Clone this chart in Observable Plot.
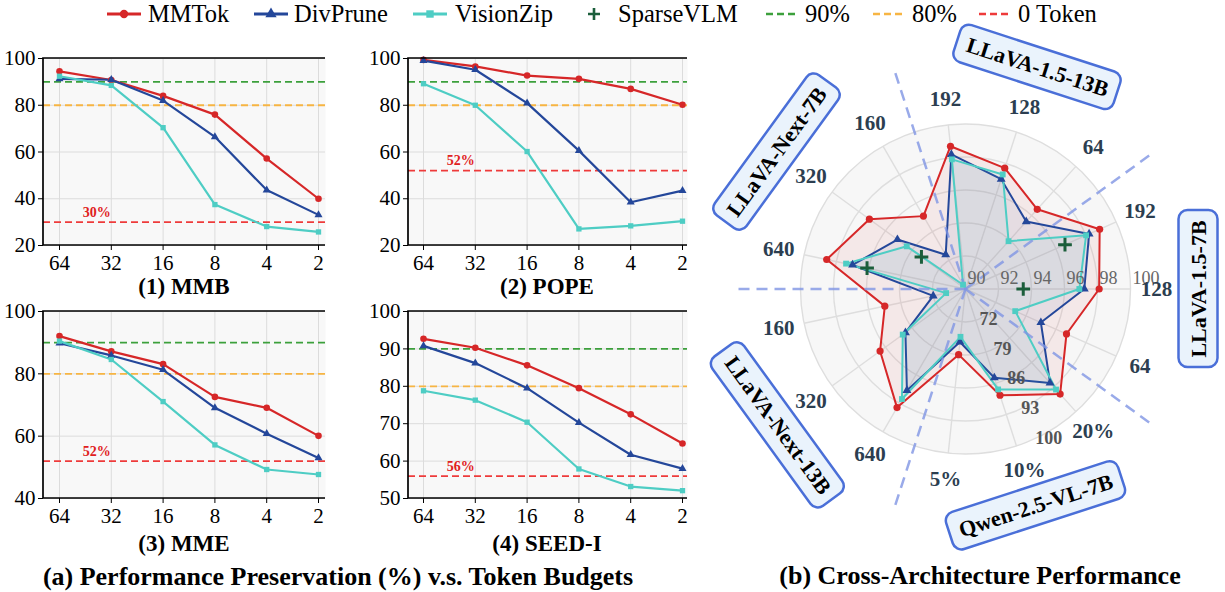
<!DOCTYPE html>
<html><head><meta charset="utf-8">
<script src="https://cdn.jsdelivr.net/npm/d3@7"></script>
<script src="https://cdn.jsdelivr.net/npm/@observablehq/plot@0.6"></script>
<style>
body{margin:0;background:#fff;font-family:"Liberation Serif","Times New Roman",serif;}
#root{position:relative;width:1225px;height:592px;overflow:hidden;background:#fff;}
#root svg{position:absolute;overflow:visible;}
.t{position:absolute;white-space:nowrap;line-height:1;color:#000;}
.c{transform:translate(-50%,-50%);font-weight:bold;font-size:23px;}
.cap{font-size:26px;}
.l{transform:translate(0,-50%);font-size:24.5px;line-height:1.2;}
</style></head><body><div id="root"></div>
<script>
// ---------------- data ----------------
const budgets = ["64","32","16","8","4","2"];
const methods = ["MMTok","DivPrune","VisionZip"];
const mmbMMTok      = [94.5, 90.8, 84.0, 76.0, 57.2, 40.0];
const mmbDivPrune   = [91.3, 90.9, 82.0, 66.5, 43.7, 33.1];
const mmbVisionZip  = [92.4, 88.5, 70.4, 37.5, 28.1, 25.8];
const popeMMTok     = [99.4, 96.6, 92.7, 91.3, 87.0, 80.2];
const popeDivPrune  = [99.1, 95.2, 80.9, 60.6, 38.5, 43.5];
const popeVisionZip = [89.2, 80.0, 60.2, 27.1, 28.4, 30.4];
const mmeMMTok      = [92.1, 87.2, 83.1, 72.6, 69.1, 60.1];
const mmeDivPrune   = [89.8, 85.9, 81.3, 69.1, 60.8, 53.0];
const mmeVisionZip  = [90.5, 84.6, 71.1, 57.2, 49.3, 47.7];
const seedMMTok     = [92.7, 90.3, 85.6, 79.5, 72.5, 64.7];
const seedDivPrune  = [90.8, 86.2, 79.5, 70.3, 61.7, 58.0];
const seedVisionZip = [78.8, 76.3, 70.4, 57.9, 53.2, 52.1];
const refLevels = [90, 80];
const zeroToken = [30, 52, 52, 56];
const panelTitles = ["(1) MMB", "(2) POPE", "(3) MME", "(4) SEED-I"];
const yTicksMMB  = [20, 40, 60, 80, 100];
const yTicksPOPE = [20, 40, 60, 80, 100];
const yTicksMME  = [40, 60, 80, 100];
const yTicksSEED = [50, 60, 70, 80, 90, 100];

const models = ["LLaVA-1.5-7B", "LLaVA-1.5-13B", "LLaVA-Next-7B", "LLaVA-Next-13B", "Qwen-2.5-VL-7B"];
const modelBudgets = [["64","128","192"], ["64","128","192"], ["160","320","640"], ["160","320","640"], ["5%","10%","20%"]];
const modelRanges = [[90,100], [90,100], [90,100], [90,100], [65,100]];
const radarMMTok     = [96.7, 98.1, 98.9,  96.5, 97.7, 98.7,  95.1, 97.2, 98.6,  95.0, 96.4, 98.3,  79.0, 88.7, 95.0];
const radarDivPrune  = [95.0, 97.2, 98.2,  95.5, 97.0, 98.2,  92.4, 95.1, 97.0,  92.0, 94.5, 97.1,  76.3, 84.8, 91.8];
const radarVisionZip = [93.3, 96.9, 98.0,  93.9, 97.3, 97.9,  90.3, 94.4, 97.4,  91.2, 94.7, 97.7,  75.2, 87.4, 93.7];
const radarSparseVLM = [null, 93.5, 96.6,  null, null, null,  null, 93.3, 96.1,  null, null, null,  null, null, null];
const rTicksLLaVA = [90, 92, 94, 96, 98, 100];
const rTicksQwen  = [72, 79, 86, 93, 100];

// ---------------- styles ----------------
const colors = {MMTok: "#d62728", DivPrune: "#24479a", VisionZip: "#4ecdc4", SparseVLM: "#1b5e3b"};
const symbols = {MMTok: "circle", DivPrune: "triangle", VisionZip: "square"};
const symR = {MMTok: 3.3, DivPrune: 3.0, VisionZip: 3.0};
const refColors = ["#3ca03c", "#f7b543"];
const zeroColor = "#ee3b3b";
const FONT = "Liberation Serif, Times New Roman, serif";
const root = document.getElementById("root");

// ---------------- line panels ----------------
const panelSeries = [
  [mmbMMTok, mmbDivPrune, mmbVisionZip],
  [popeMMTok, popeDivPrune, popeVisionZip],
  [mmeMMTok, mmeDivPrune, mmeVisionZip],
  [seedMMTok, seedDivPrune, seedVisionZip]
];
const panelTicks = [yTicksMMB, yTicksPOPE, yTicksMME, yTicksSEED];
const layout = [
  {left: 0,   top: 28,  x0: 59, x1: 318, W: 337, cx: 184},
  {left: 365, top: 28,  x0: 58, x1: 317, W: 334, cx: 547},
  {left: 0,   top: 281, x0: 59, x1: 318, W: 337, cx: 184},
  {left: 365, top: 281, x0: 58, x1: 317, W: 334, cx: 547}
];
const labelAt = 0.72;

const spines = (index, scales, values, dims) => {
  const {width, height, marginLeft: l, marginRight: r, marginTop: t, marginBottom: b} = dims;
  return d3.create("svg:path")
    .attr("d", `M${width - r},${t}H${l}V${height - b}H${width - r}`)
    .attr("fill", "none").attr("stroke", "#000").attr("stroke-width", 1.7).node();
};

panelSeries.forEach((series, p) => {
  const L = layout[p];
  const ticks = panelTicks[p];
  const rows = [];
  series.forEach((arr, s) => arr.forEach((v, i) => rows.push({m: methods[s], i, v})));
  const plot = Plot.plot({
    width: L.W, height: 267,
    marginLeft: 43, marginRight: 12, marginTop: 30, marginBottom: 50,
    x: {type: "linear", domain: [0, budgets.length - 1], range: [L.x0, L.x1]},
    y: {domain: [ticks[0], ticks[ticks.length - 1]]},
    style: {fontFamily: FONT, fontSize: "21px", background: "transparent", color: "#000", overflow: "visible"},
    marks: [
      Plot.frame({fill: "#f8f8f8", stroke: "none"}),
      Plot.gridX(d3.range(budgets.length), {stroke: "#dcdcdc", strokeOpacity: 1, strokeWidth: 1}),
      Plot.gridY(ticks, {stroke: "#dcdcdc", strokeOpacity: 1, strokeWidth: 1}),
      Plot.ruleY([refLevels[0]], {stroke: refColors[0], strokeWidth: 1.8, strokeDasharray: "7,4"}),
      Plot.ruleY([refLevels[1]], {stroke: refColors[1], strokeWidth: 1.8, strokeDasharray: "7,4"}),
      Plot.ruleY([zeroToken[p]], {stroke: zeroColor, strokeWidth: 1.8, strokeDasharray: "7,4"}),
      Plot.text([zeroToken[p]], {x: () => labelAt, y: d => d, dy: -10, text: d => d + "%",
        fill: "#e02020", fontWeight: "bold", fontSize: 14}),
      ...methods.map(m => Plot.line(rows.filter(r => r.m === m), {x: "i", y: "v", stroke: colors[m], strokeWidth: 2.2})),
      ...methods.map(m => Plot.dot(rows.filter(r => r.m === m), {x: "i", y: "v", symbol: symbols[m], fill: colors[m], r: symR[m]})),
      spines,
      Plot.axisY(ticks, {tickSize: 5, tickPadding: 3, label: null, fontSize: 21}),
      Plot.axisX(d3.range(budgets.length), {tickFormat: i => budgets[i], tickSize: 5, tickPadding: 5, label: null, fontSize: 21})
    ]
  });
  plot.style.left = L.left + "px";
  plot.style.top = L.top + "px";
  root.appendChild(plot);
  const t = document.createElement("div");
  t.className = "t c";
  t.textContent = panelTitles[p];
  t.style.left = L.cx + "px";
  t.style.top = (p < 2 ? 286 : 543) + "px";
  root.appendChild(t);
});

// ---------------- radar ----------------
const R = 165, RW = 525, RH = 530, RCX = 265, RCY = 258.5, RLEFT = 700, RTOP = 30;
const deg = Math.PI / 180;
const axes = [];
models.forEach((m, gi) => modelBudgets[gi].forEach((lab, j) =>
  axes.push({gi, j, k: gi * 3 + j, lab, ang: gi * 72 - 24 + j * 24})));
const frac = (v, gi) => (v - modelRanges[gi][0]) / (modelRanges[gi][1] - modelRanges[gi][0]);
function radarPts(arr) {
  return axes.filter(a => arr[a.k] != null).map(a => {
    const f = frac(arr[a.k], a.gi);
    return {x: f * Math.cos(a.ang * deg), y: f * Math.sin(a.ang * deg)};
  });
}
const radarSeries = {MMTok: radarMMTok, DivPrune: radarDivPrune, VisionZip: radarVisionZip};
const fillOp = {MMTok: 0.07, DivPrune: 0.07, VisionZip: 0.07};
const rings = [0.2, 0.4, 0.6, 0.8, 1.0];
const sepLen = 233 / R, labR = 191 / R;
const boxR = [233 / R, 233 / R, 233 / R, 232 / R, 228 / R];
const modelAng = gi => gi * 72;
const modelRot = gi => { let r = 90 - modelAng(gi); while (r >= 90) r -= 180; while (r < -90) r += 180; return r; };
const qAng = 295;

function measure(txt, font) {
  const c = measure.c || (measure.c = document.createElement("canvas").getContext("2d"));
  c.font = font; return c.measureText(txt).width;
}
const boxes = (index, scales) => {
  const g = d3.create("svg:g");
  models.forEach((name, gi) => {
    const a = modelAng(gi) * deg;
    const px = scales.x(boxR[gi] * Math.cos(a)), py = scales.y(boxR[gi] * Math.sin(a));
    const w = measure(name, `bold 22px ${FONT}`) + 20, h = 39;
    g.append("rect")
      .attr("transform", `translate(${px},${py}) rotate(${modelRot(gi)})`)
      .attr("x", -w / 2).attr("y", -h / 2).attr("width", w).attr("height", h).attr("rx", 9)
      .attr("fill", "#eaf3fc").attr("stroke", "#4a6fd8").attr("stroke-width", 2.5);
  });
  return g.node();
};

const radar = Plot.plot({
  width: RW, height: RH, margin: 0,
  x: {domain: [-RCX / R, (RW - RCX) / R], range: [0, RW], axis: null},
  y: {domain: [(RCY - RH) / R, RCY / R], range: [RH, 0], axis: null},
  r: {type: "identity"},
  style: {fontFamily: FONT, background: "transparent", overflow: "visible"},
  marks: [
    Plot.dot([1], {x: () => 0, y: () => 0, r: d => d * R, fill: "#f7f7f7", stroke: "none"}),
    Plot.dot(rings, {x: () => 0, y: () => 0, r: d => d * R, fill: "none", stroke: "#dedede", strokeWidth: 1.4}),
    Plot.link(axes, {x1: () => 0, y1: () => 0, x2: a => Math.cos(a.ang * deg), y2: a => Math.sin(a.ang * deg),
      stroke: "#dedede", strokeWidth: 1.4}),
    ...methods.map(m => Plot.line(radarPts(radarSeries[m]), {x: "x", y: "y", curve: "linear-closed",
      stroke: colors[m], strokeWidth: 2, fill: colors[m], fillOpacity: fillOp[m]})),
    Plot.link(models, {x1: () => 0, y1: () => 0,
      x2: (d, i) => sepLen * Math.cos((modelAng(i) + 36) * deg), y2: (d, i) => sepLen * Math.sin((modelAng(i) + 36) * deg),
      stroke: "#7f95e3", strokeOpacity: 0.8, strokeWidth: 2.5, strokeDasharray: "11,7"}),
    ...methods.map(m => Plot.dot(radarPts(radarSeries[m]), {x: "x", y: "y", symbol: symbols[m], fill: colors[m], r: symR[m] + 0.3})),
    Plot.dot(radarPts(radarSparseVLM), {x: "x", y: "y", symbol: "plus", stroke: colors.SparseVLM, strokeWidth: 3, r: 4.5}),
    Plot.text(rTicksLLaVA, {x: t => frac(t, 0), y: () => 0, text: t => String(t), textAnchor: "start",
      dx: 2, dy: -11, fill: "#666", fontSize: 18}),
    Plot.text(rTicksQwen, {x: t => frac(t, 4) * Math.cos(qAng * deg), y: t => frac(t, 4) * Math.sin(qAng * deg),
      text: t => String(t), textAnchor: "start", fill: "#555", fontWeight: "bold", fontSize: 18}),
    Plot.text(axes, {x: a => labR * Math.cos(a.ang * deg), y: a => labR * Math.sin(a.ang * deg), text: "lab",
      fill: "#2c3e50", fontWeight: "bold", fontSize: 21}),
    boxes,
    Plot.text(models, {x: (d, i) => boxR[i] * Math.cos(modelAng(i) * deg), y: (d, i) => boxR[i] * Math.sin(modelAng(i) * deg),
      text: d => d, rotate: (d, i) => modelRot(i), fill: "#000", fontWeight: "bold", fontSize: 22})
  ]
});
radar.style.left = RLEFT + "px";
radar.style.top = RTOP + "px";
root.appendChild(radar);

// ---------------- captions ----------------
[["(a) Performance Preservation (%) v.s. Token Budgets", 338, 577],
 ["(b) Cross-Architecture Performance", 980, 576]].forEach(([txt, x, y]) => {
  const d = document.createElement("div");
  d.className = "t c cap"; d.textContent = txt;
  d.style.left = x + "px"; d.style.top = y + "px";
  root.appendChild(d);
});

// ---------------- legend ----------------
const legendItems = [
  {label: "MMTok", color: colors.MMTok, sym: "circle", mx: 107, tx: 148},
  {label: "DivPrune", color: colors.DivPrune, sym: "triangle", mx: 254, tx: 294},
  {label: "VisionZip", color: colors.VisionZip, sym: "square", mx: 413, tx: 455},
  {label: "SparseVLM", color: colors.SparseVLM, sym: "plus", mx: 577, tx: 618},
  {label: "90%", color: refColors[0], sym: "dash", mx: 765, tx: 805},
  {label: "80%", color: refColors[1], sym: "dash", mx: 872, tx: 912},
  {label: "0 Token", color: zeroColor, sym: "dash", mx: 978, tx: 1018}
];
const LY = 14;
legendItems.forEach(it => {
  const s = d3.create("svg").attr("width", 34).attr("height", 24)
    .style("left", it.mx + "px").style("top", (LY - 12) + "px");
  if (it.sym === "dash") {
    s.append("line").attr("x1", 1).attr("x2", 33).attr("y1", 12).attr("y2", 12)
      .attr("stroke", it.color).attr("stroke-width", 2.5).attr("stroke-dasharray", "7,4");
  } else if (it.sym === "plus") {
    s.append("path").attr("d", "M17,6V18M11,12H23").attr("stroke", it.color).attr("stroke-width", 2.6);
  } else {
    s.append("line").attr("x1", 0).attr("x2", 34).attr("y1", 12).attr("y2", 12)
      .attr("stroke", it.color).attr("stroke-width", 3);
    const sym = {circle: d3.symbolCircle, triangle: d3.symbolTriangle, square: d3.symbolSquare}[it.sym];
    s.append("path").attr("transform", "translate(17,12)").attr("d", d3.symbol(sym, 55)()).attr("fill", it.color);
  }
  root.appendChild(s.node());
  const d = document.createElement("div");
  d.className = "t l"; d.textContent = it.label;
  d.style.left = it.tx + "px"; d.style.top = LY + "px";
  root.appendChild(d);
});
</script></body></html>
